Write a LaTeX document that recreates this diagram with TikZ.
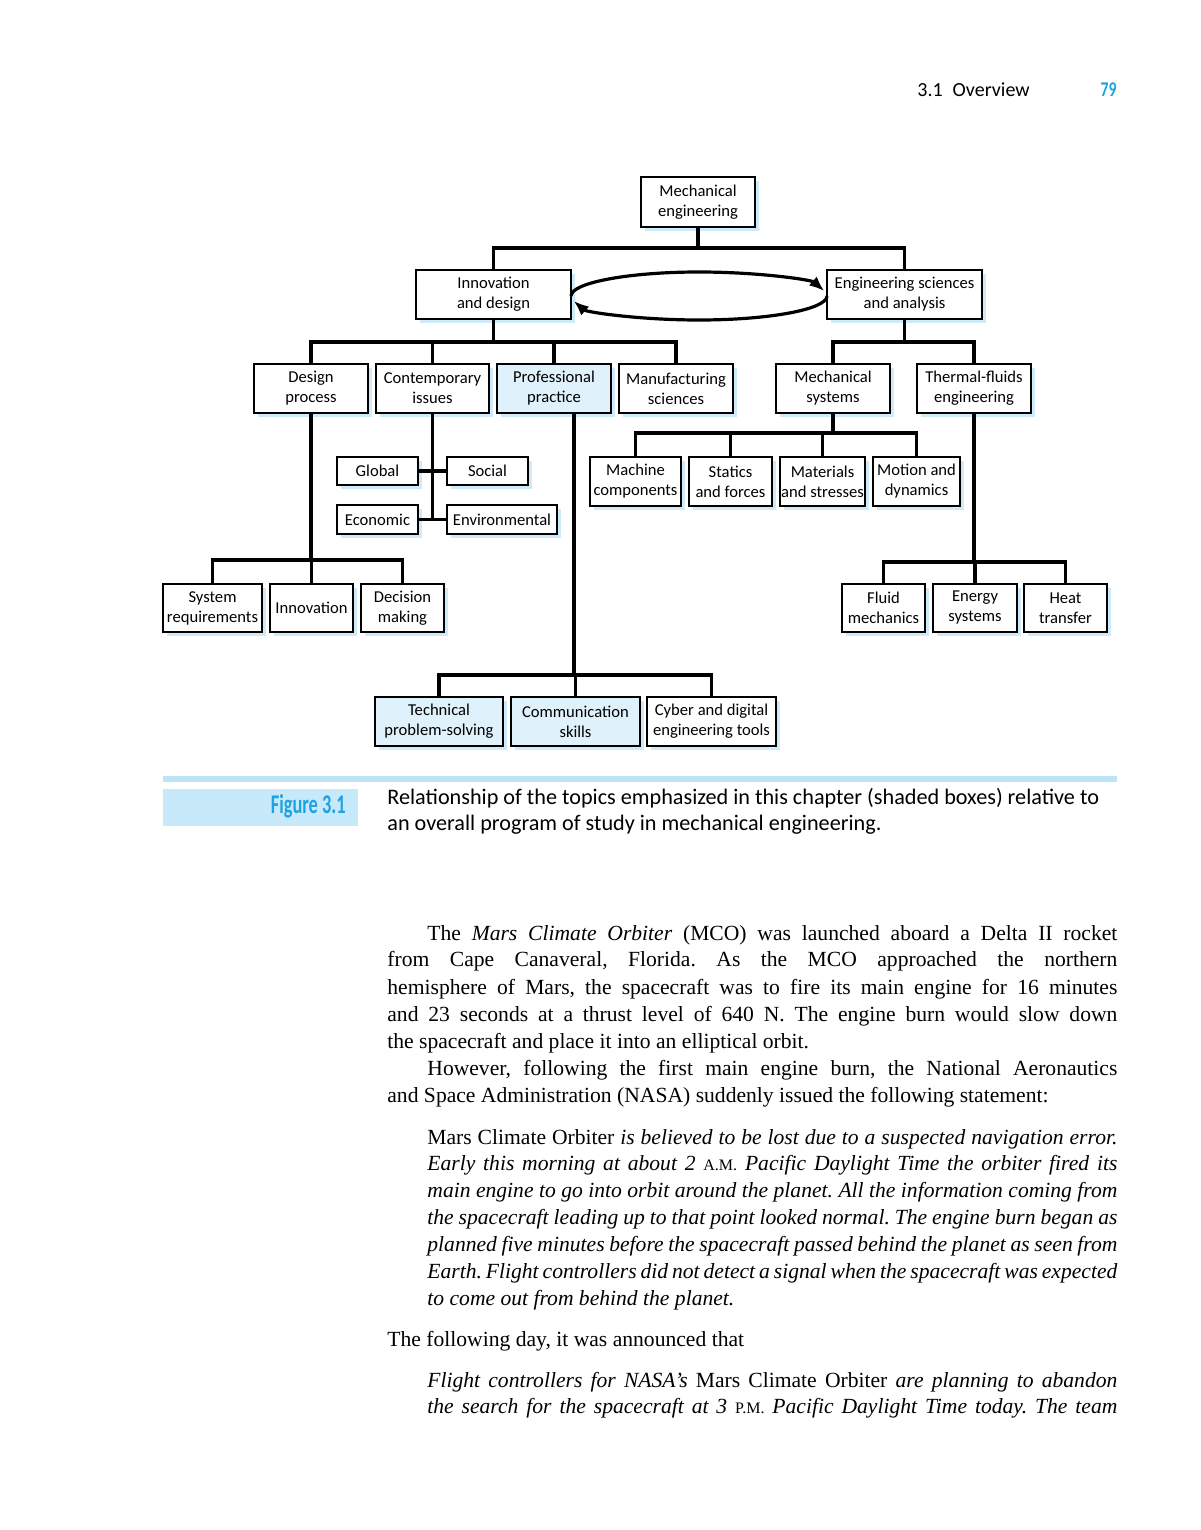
\documentclass[tikz,border=0pt]{standalone}
\usepackage{fontspec}
\setmainfont{Liberation Serif}
\newfontfamily\boxfont{Carlito}
\usetikzlibrary{shadows,arrows.meta}
\definecolor{shade}{HTML}{DFF1FB}
\definecolor{shadowc}{HTML}{CFEAF8}
\definecolor{rulec}{HTML}{BDE3F6}
\definecolor{figfill}{HTML}{C8E9F9}
\definecolor{figblue}{HTML}{1CA3E3}
\newcommand\jline[5]{\node[anchor=base west,inner sep=0pt] (#1) at (#2,#3) {\makebox[#4][s]{#5}};}
\newcommand\pline[4]{\node[anchor=base west,inner sep=0pt] (#1) at (#2,#3) {#4};}
\newcommand\smc[1]{\textup{\footnotesize #1}}
\frenchspacing
\begin{document}
\begin{tikzpicture}[x=0.5pt,y=-0.5pt,
  box/.style={draw=black, line width=0.8pt, fill=white, align=center, inner sep=0pt, outer sep=0pt,
    font=\boxfont\fontsize{8.3}{10}\selectfont,
    general shadow={fill=shadowc, shadow xshift=1.8pt, shadow yshift=-1.8pt}},
  shbox/.style={box, fill=shade},
  conn/.style={line width=1.6pt, line join=miter},
  bodyfont/.style={font=\fontsize{10.8}{13.5}\selectfont}
]
\useasboundingbox (0,0) rectangle (1200,1530);
\fill[white] (0,0) rectangle (1200,1530);

% header
\node[anchor=base west, inner sep=0pt, font=\boxfont\fontsize{10}{12}\selectfont] (hdr) at (917,97) {3.1\enspace Overview};
\node[anchor=base east, inner sep=0pt, font=\boxfont\bfseries\fontsize{10.5}{12}\selectfont, text=figblue] (pg) at (1117,97) {\scalebox{0.75}[1]{79}};

% boxes
\node[box, minimum width=57pt, minimum height=25pt] (me) at (698,202) {Mechanical\\engineering};
\node[box, minimum width=77.5pt, minimum height=24.5pt] (inn) at (493.5,294.5) {Innovation\\and design};
\node[box, minimum width=77.5pt, minimum height=24.5pt] (esa) at (904.5,294.5) {Engineering sciences\\and analysis};

\node[box, minimum width=57pt, minimum height=24.5pt] (dp) at (311,388.5) {Design\\process};
\node[box, minimum width=56.5pt, minimum height=24.5pt] (ci) at (432.5,388.5) {Contemporary\\issues};
\node[shbox, minimum width=57pt, minimum height=24.5pt] (pp) at (554,388.5) {Professional\\practice};
\node[box, minimum width=57pt, minimum height=24.5pt] (ms) at (676,388.5) {Manufacturing\\sciences};
\node[box, minimum width=57pt, minimum height=24.5pt] (mech) at (833,388.5) {Mechanical\\systems};
\node[box, minimum width=57pt, minimum height=24.5pt] (tf) at (974,388.5) {Thermal-fluids\\engineering};

\node[box, minimum width=40.5pt, minimum height=14pt] (glob) at (377.5,471) {Global};
\node[box, minimum width=40.5pt, minimum height=14pt] (soc) at (487.5,471) {Social};
\node[box, minimum width=40.5pt, minimum height=14.5pt] (econ) at (377.5,519.5) {Economic};
\node[box, minimum width=55pt, minimum height=14.5pt] (env) at (502,519.5) {Environmental};

\node[box, minimum width=49.5pt, minimum height=24pt] (sr) at (212.5,608) {System\\requirements};
\node[box, minimum width=41.5pt, minimum height=24pt] (innov) at (311.5,608) {Innovation};
\node[box, minimum width=41.5pt, minimum height=24pt] (dm) at (402.5,608) {Decision\\making};

\node[box, minimum width=45.5pt, minimum height=24.5pt] (mc) at (635.5,481.5) {Machine\\components};
\node[box, minimum width=41.5pt, minimum height=24.5pt] (sf) at (730.5,481.5) {Statics\\and forces};
\node[box, minimum width=42.5pt, minimum height=24.5pt] (mat) at (822.5,481.5) {Materials\\and stresses};
\node[box, minimum width=43.5pt, minimum height=24.5pt] (mot) at (916.5,481.5) {Motion and\\dynamics};

\node[box, minimum width=41.5pt, minimum height=24pt] (fm) at (883.5,608) {Fluid\\mechanics};
\node[box, minimum width=42pt, minimum height=24pt] (es) at (975,608) {Energy\\systems};
\node[box, minimum width=41.5pt, minimum height=24pt] (ht) at (1065.5,608) {Heat\\transfer};

\node[shbox, minimum width=64pt, minimum height=24.5pt] (tps) at (439,721.5) {Technical\\problem-solving};
\node[shbox, minimum width=64.5pt, minimum height=24.5pt] (cs) at (575.5,721.5) {Communication\\skills};
\node[box, minimum width=64.5pt, minimum height=24.5pt] (cy) at (711.5,721.5) {Cyber and digital\\engineering tools};

% bar levels
\coordinate (b1) at (0,248);
\coordinate (b2) at (0,342);
\coordinate (b3) at (0,560);
\coordinate (b4) at (0,675);
\coordinate (b5) at (0,433);
\coordinate (b6) at (0,562);
\coordinate (ppd) at ([xshift=10pt]pp.south);

\draw[conn] (me.south) -- (me.south|-b1);
\draw[conn] (inn.north) -- (inn.north|-b1) -- (esa.north|-b1) -- (esa.north);

\draw[conn] (inn.south) -- (inn.south|-b2);
\draw[conn] (dp.north) -- (dp.north|-b2) -- (ms.north|-b2) -- (ms.north);
\draw[conn] (ci.north) -- (ci.north|-b2);
\draw[conn] (pp.north) -- (pp.north|-b2);
\draw[conn] (esa.south) -- (esa.south|-b2);
\draw[conn] (mech.north) -- (mech.north|-b2) -- (tf.north|-b2) -- (tf.north);

\draw[conn] (ci.south) -- (ci.south|-econ.east);
\draw[conn] (glob.east) -- (soc.west);
\draw[conn] (econ.east) -- (env.west);

\draw[conn] (dp.south) -- (dp.south|-b3);
\draw[conn] (sr.north) -- (sr.north|-b3) -- (dm.north|-b3) -- (dm.north);
\draw[conn] (innov.north) -- (innov.north|-b3);

\draw[conn] (ppd) -- (ppd|-b4);
\draw[conn] (tps.north) -- (tps.north|-b4) -- (cy.north|-b4) -- (cy.north);
\draw[conn] (cs.north) -- (cs.north|-b4);

\draw[conn] (mech.south) -- (mech.south|-b5);
\draw[conn] (mc.north) -- (mc.north|-b5) -- (mot.north|-b5) -- (mot.north);
\draw[conn] (sf.north) -- (sf.north|-b5);
\draw[conn] (mat.north) -- (mat.north|-b5);

\draw[conn] (tf.south) -- (tf.south|-b6);
\draw[conn] (fm.north) -- (fm.north|-b6) -- (ht.north|-b6) -- (ht.north);
\draw[conn] (es.north) -- (es.north|-b6);

% ellipse with arrows
\coordinate (ec) at (699,296);
\draw[conn, -{Latex[length=7.5pt,width=6pt]}] ([xshift=-64pt]ec) arc[start angle=180, end angle=12, x radius=64pt, y radius=12pt];
\draw[conn, -{Latex[length=7.5pt,width=6pt]}] ([xshift=64pt]ec) arc[start angle=0, end angle=-168, x radius=64pt, y radius=12pt];

% caption
\fill[rulec] (163,776) rectangle (1117,782);
\node[fill=figfill, inner sep=0pt, minimum width=97.5pt, minimum height=18.5pt] (figbox) at (260.5,807.5) {};
\node[anchor=base east, inner sep=0pt, text=figblue, font=\boxfont\bfseries\fontsize{13.5}{14}\selectfont] (figlbl) at (346,813) {\scalebox{0.68}[1]{Figure 3.1}};
\node[anchor=base west, inner sep=0pt, font=\boxfont\fontsize{11.1}{13}\selectfont] (cap1) at (387,804) {Relationship of the topics emphasized in this chapter (shaded boxes) relative to};
\node[anchor=base west, inner sep=0pt, font=\boxfont\fontsize{11.1}{13}\selectfont] (cap2) at (387,830) {an overall program of study in mechanical engineering.};

% body text
\begin{scope}[every node/.style={bodyfont}]
\jline{l1}{427}{940}{345pt}{The \textit{Mars Climate Orbiter} (MCO) was launched aboard a Delta II rocket}
\jline{l2}{387}{966}{365pt}{from Cape Canaveral, Florida. As the MCO approached the northern}
\jline{l3}{387}{994}{365pt}{hemisphere of Mars, the spacecraft was to fire its main engine for 16 minutes}
\jline{l4}{387}{1021}{365pt}{and 23 seconds at a thrust level of 640 N. The engine burn would slow down}
\pline{l5}{387}{1048}{the spacecraft and place it into an elliptical orbit.}
\jline{l6}{427}{1075}{345pt}{However, following the first main engine burn, the National Aeronautics}
\pline{l7}{387}{1102}{and Space Administration (NASA) suddenly issued the following statement:}

\jline{q1}{427}{1144}{345pt}{Mars Climate Orbiter \textit{is believed to be lost due to a suspected navigation error.}}
\jline{q2}{427}{1170}{345pt}{\textit{Early this morning at about 2 \smc{A.M.} Pacific Daylight Time the orbiter fired its}}
\jline{q3}{427}{1197}{345pt}{\textit{main engine to go into orbit around the planet. All the information coming from}}
\jline{q4}{427}{1224}{345pt}{\textit{the spacecraft leading up to that point looked normal. The engine burn began as}}
\jline{q5}{427}{1251}{345pt}{\textit{planned five minutes before the spacecraft passed behind the planet as seen from}}
\jline{q6}{427}{1278}{345pt}{\textit{Earth. Flight controllers did not detect a signal when the spacecraft was expected}}
\pline{q7}{427}{1305}{\textit{to come out from behind the planet.}}

\pline{l8}{387}{1346}{The following day, it was announced that}

\jline{r1}{427}{1387}{345pt}{\textit{Flight controllers for NASA's} Mars Climate Orbiter \textit{are planning to abandon}}
\jline{r2}{427}{1413}{345pt}{\textit{the search for the spacecraft at 3 \smc{P.M.} Pacific Daylight Time today. The team}}
\end{scope}
\end{tikzpicture}
\end{document}
